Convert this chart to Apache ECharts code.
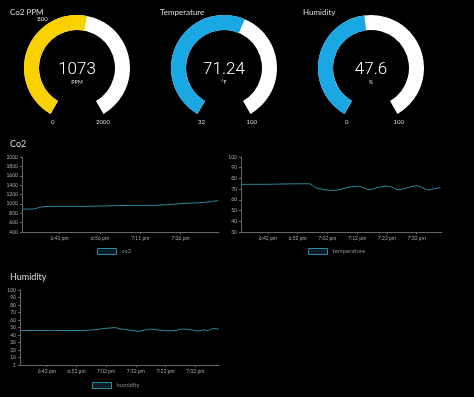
<!DOCTYPE html>
<html lang="en">
<head>
<meta charset="UTF-8">
<title>Sensor dashboard</title>
<script src="https://cdn.jsdelivr.net/npm/echarts@6/dist/echarts.min.js"></script>
<style>
    html, body { margin: 0; padding: 0; background: #000; }
    #main { width: 474px; height: 397px; }
</style>
</head>
<body>
<div id="main"></div>
<script type="text/javascript">

    // gauges
    let gaugeNames = ['Co2 PPM', 'Temperature', 'Humidity'];
    let gaugeUnits = ['PPM', '°F', '%'];
    let gaugeValues = [1073, 71.24, 47.6];
    let gaugeMin = [0, 32, 0];
    let gaugeMax = [2000, 100, 100];
    let co2Mark = 800;

    // line charts, all times are pm
    let co2Times = ['6:27', '6:31', '6:34', '6:37', '6:45', '6:52', '6:58', '7:05', '7:16', '7:20', '7:24', '7:27', '7:33', '7:37', '7:40'];
    let co2Values = [888, 890, 930, 945, 946, 948, 955, 966, 968, 980, 995, 1010, 1025, 1045, 1073];

    let tempTimes = ['6:33', '6:40', '6:47', '6:53', '6:56', '6:58', '7:00', '7:03', '7:05', '7:08', '7:10', '7:12', '7:13', '7:16', '7:19', '7:22', '7:23', '7:26', '7:29', '7:32', '7:33', '7:36', '7:38', '7:40'];
    let tempValues = [74.5, 74.5, 74.8, 75, 75, 71.5, 70, 68.8, 69, 71, 72.2, 72.8, 72.5, 69.6, 71.5, 72.8, 72.5, 69.5, 71.5, 73, 72.5, 69.3, 70.5, 71.5];

    let humTimes = ['6:33', '6:45', '6:55', '6:57', '6:59', '7:01', '7:03', '7:05', '7:07', '7:10', '7:13', '7:15', '7:17', '7:20', '7:23', '7:26', '7:28', '7:31', '7:33', '7:35', '7:36', '7:38', '7:40'];
    let humValues = [46, 46, 46, 46.8, 47.2, 48.6, 49.2, 49.8, 48, 46.5, 45, 46.5, 47.8, 46.5, 45.5, 46.3, 48, 46.5, 45.3, 46.8, 45.8, 48.5, 48];

    let co2Ticks = ['6:41', '6:56', '7:11', '7:26'];
    let tenMinTicks = ['6:42', '6:52', '7:02', '7:12', '7:22', '7:32'];
    let co2Range = ['6:27', '7:40.3'];
    let tempRange = ['6:33', '7:40.5'];
    let humRange = ['6:33', '7:40'];
    let humZeroLabel = '1';

    let yellow = '#f9d000';
    let blue = '#19a8e4';
    let lineColor = '#2a8aa2';
    let gaugeX = [77, 224, 371];
    let ringWidth = 15;

    function toMin(t) {
        let p = t.split(':');
        return parseInt(p[0]) * 60 + parseFloat(p[1]);
    }

    function fmtTime(v) {
        let h = Math.floor(v / 60);
        let m = Math.round(v - h * 60);
        return h + ':' + (m < 10 ? '0' + m : m) + ' pm';
    }

    function pairs(times, values) {
        let out = [];
        for (let i = 0; i < times.length; i++) {
            out.push([toMin(times[i]), values[i]]);
        }
        return out;
    }

    function gauge(i, color) {
        return {
            type: 'gauge',
            center: [gaugeX[i], 68],
            radius: 53,
            startAngle: 240,
            endAngle: -60,
            min: gaugeMin[i],
            max: gaugeMax[i],
            splitNumber: 1,
            axisLine: {lineStyle: {width: ringWidth, color: [[1, '#fff']]}},
            progress: {show: true, width: ringWidth, itemStyle: {color: color}},
            pointer: {show: false},
            axisTick: {show: false},
            splitLine: {show: false, length: 0, distance: 0},
            axisLabel: {distance: -13, color: '#ddd', fontSize: 6, padding: [0, 0, 0, 7]},
            title: {offsetCenter: [0, 14], color: '#ddd', fontSize: 5.5},
            detail: {
                offsetCenter: [0, 2], color: '#fff', fontSize: 17, fontWeight: 300,
                fontFamily: 'Roboto, sans-serif',
                formatter: function (v) { return String(v); }
            },
            data: [{value: gaugeValues[i], name: gaugeUnits[i]}]
        };
    }

    // angle of the 800 ppm mark on the co2 gauge
    let markAngle = 240 - (co2Mark - gaugeMin[0]) / (gaugeMax[0] - gaugeMin[0]) * 300;
    let markRad = (markAngle + 5) * Math.PI / 180;

    let markGauge = {
        type: 'gauge',
        center: [gaugeX[0], 68],
        radius: 53,
        startAngle: markAngle,
        endAngle: markAngle - 0.01,
        min: co2Mark,
        max: co2Mark + 1,
        splitNumber: 1,
        axisLine: {lineStyle: {width: ringWidth, color: [[1, 'rgba(0,0,0,0)']]}},
        progress: {show: false},
        pointer: {show: false},
        axisTick: {show: false},
        splitLine: {show: true, length: ringWidth, distance: -ringWidth, lineStyle: {color: '#3b3000', width: 1}},
        axisLabel: {show: false},
        title: {offsetCenter: [60 * Math.cos(markRad), -60 * Math.sin(markRad)], color: '#ddd', fontSize: 6},
        detail: {show: false},
        data: [{value: co2Mark, name: String(co2Mark)}]
    };

    function xAxis(i, range, ticks) {
        let vals = ticks.map(toMin);
        return {
            type: 'value', gridIndex: i,
            min: toMin(range[0]), max: toMin(range[1]),
            axisLine: {lineStyle: {color: '#666'}},
            axisTick: {customValues: vals, length: 2, lineStyle: {color: '#666'}},
            axisLabel: {customValues: vals, formatter: fmtTime, color: '#aaa', fontSize: 5, margin: 4},
            splitLine: {show: false}
        };
    }

    function yAxis(i, min, max, interval, fmt) {
        return {
            type: 'value', gridIndex: i, min: min, max: max, interval: interval,
            axisLine: {show: true, lineStyle: {color: '#666'}},
            axisTick: {show: true, length: 2, lineStyle: {color: '#666'}},
            axisLabel: {
                color: '#aaa', fontSize: 5, margin: 4,
                formatter: fmt || function (v) { return String(v); }
            },
            splitLine: {show: false}
        };
    }

    function lineSeries(name, i, data) {
        return {
            name: name, type: 'line', xAxisIndex: i, yAxisIndex: i,
            data: data, showSymbol: false, smooth: 0.3,
            lineStyle: {color: lineColor, width: 1},
            itemStyle: {color: lineColor}
        };
    }

    function legend(name, left, top) {
        return {
            data: [name], left: left, top: top, padding: 0,
            icon: 'rect', itemWidth: 19, itemHeight: 6,
            itemStyle: {color: '#0c1c22', borderColor: lineColor, borderWidth: 1},
            textStyle: {color: '#888', fontSize: 6}
        };
    }

    let titleStyle = {color: '#ddd', fontWeight: 'normal', fontSize: 8};

    let option = {
        backgroundColor: '#000',
        animation: false,
        textStyle: {fontFamily: 'Lato, sans-serif'},
        title: [
            {text: gaugeNames[0], left: 10, top: 8, padding: 0, textStyle: titleStyle},
            {text: gaugeNames[1], left: 160, top: 8, padding: 0, textStyle: titleStyle},
            {text: gaugeNames[2], left: 303, top: 8, padding: 0, textStyle: titleStyle},
            {text: 'Co2', left: 10, top: 140, padding: 0, textStyle: {color: '#ddd', fontWeight: 'normal', fontSize: 9}},
            {text: 'Humidity', left: 10, top: 273, padding: 0, textStyle: {color: '#ddd', fontWeight: 'normal', fontSize: 9}}
        ],
        legend: [
            legend('co2', 97, 248),
            legend('temperature', 308, 248),
            legend('humidity', 92, 382)
        ],
        grid: [
            {left: 22, top: 157, width: 197, height: 75},
            {left: 241, top: 157, width: 201, height: 75},
            {left: 20, top: 290, width: 199, height: 75}
        ],
        xAxis: [
            xAxis(0, co2Range, co2Ticks),
            xAxis(1, tempRange, tenMinTicks),
            xAxis(2, humRange, tenMinTicks)
        ],
        yAxis: [
            yAxis(0, 400, 2000, 200),
            yAxis(1, 30, 100, 10),
            yAxis(2, 0, 100, 10, function (v) { return v === 0 ? humZeroLabel : String(v); })
        ],
        series: [
            gauge(0, yellow),
            markGauge,
            gauge(1, blue),
            gauge(2, blue),
            lineSeries('co2', 0, pairs(co2Times, co2Values)),
            lineSeries('temperature', 1, pairs(tempTimes, tempValues)),
            lineSeries('humidity', 2, pairs(humTimes, humValues))
        ]
    };

    let chart = echarts.init(document.getElementById('main'));
    chart.setOption(option);

</script>
</body>
</html>
